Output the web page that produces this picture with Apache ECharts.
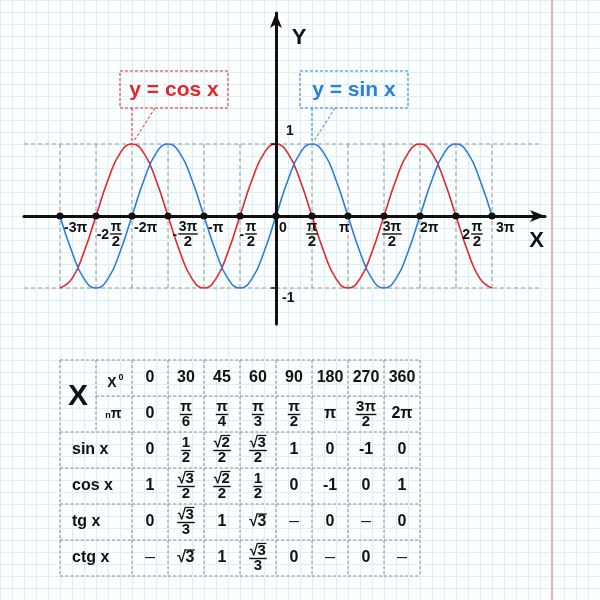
<!DOCTYPE html>
<html><head><meta charset="utf-8">
<script src="https://cdn.jsdelivr.net/npm/echarts@6/dist/echarts.min.js"></script>
<style>html,body{margin:0;padding:0;background:#fff}#c{width:600px;height:600px}</style>
</head><body><div id="c"></div>
<script>
// ---------- DATA ----------
// x positions in steps of π/6, from -3π to 3π
const xSteps = [-18,-17,-16,-15,-14,-13,-12,-11,-10,-9,-8,-7,-6,-5,-4,-3,-2,-1,0,1,2,3,4,5,6,7,8,9,10,11,12,13,14,15,16,17,18];
const sinValues = [0,-0.5,-0.87,-1,-0.87,-0.5,0,0.5,0.87,1,0.87,0.5,0,-0.5,-0.87,-1,-0.87,-0.5,0,0.5,0.87,1,0.87,0.5,0,-0.5,-0.87,-1,-0.87,-0.5,0,0.5,0.87,1,0.87,0.5,0];
const cosValues = [-1,-0.87,-0.5,0,0.5,0.87,1,0.87,0.5,0,-0.5,-0.87,-1,-0.87,-0.5,0,0.5,0.87,1,0.87,0.5,0,-0.5,-0.87,-1,-0.87,-0.5,0,0.5,0.87,1,0.87,0.5,0,-0.5,-0.87,-1];
const tickSteps = [-18,-15,-12,-9,-6,-3,0,3,6,9,12,15,18];
const tickLabels = ['-3π','-2 π/2','-2π','- 3π/2','-π','- π/2','0','π/2','π','3π/2','2π','2 π/2','3π'];
const yLabels = ['1','-1'];
const yLabelValues = [1,-1];
const axisNames = ['X','Y'];
const callouts = ['y = cos x','y = sin x'];
const calloutAnchors = [-12, 3]; // -2π and π/2 (peaks)
const tableCorner = 'X';
const headerUnits = ['X0','nπ'];
const degreeRow = ['0','30','45','60','90','180','270','360'];
const radianRow = ['0','π/6','π/4','π/3','π/2','π','3π/2','2π'];
const funcNames = ['sin x','cos x','tg x','ctg x'];
const sinRow = ['0','1/2','√2/2','√3/2','1','0','-1','0'];
const cosRow = ['1','√3/2','√2/2','1/2','0','-1','0','1'];
const tgRow = ['0','√3/3','1','√3','—','0','—','0'];
const ctgRow = ['—','√3','1','√3/3','0','—','0','—'];

// ---------- LAYOUT / STYLE ----------
const FAM = '"Liberation Sans", Arial, sans-serif';
const F = (s, w) => (w || 'bold') + ' ' + s + 'px ' + FAM;
const RED = '#e3262a', BLUE = '#2a7fd6', DASH_GREY = '#9a9a9a';
const tickDx = [4, 20, 2, 20, 4, 11, 3, 0, -9, 8, 0, 21, 4];
const calloutColors = [RED, BLUE];
const marginX = 552;

const mctx = document.createElement('canvas').getContext('2d');
function tw(t, font) { mctx.font = font; return mctx.measureText(t).width; }
function txt(t, x, y, font, align, color) {
  return {type:'text', x:x, y:y, style:{text:t, font:font, fill:color||'#111', align:align||'center', verticalAlign:'middle'}};
}
function barEl(x1, x2, y, h) {
  return {type:'rect', shape:{x:x1, y:y-(h||1.5)/2, width:x2-x1, height:h||1.5}, style:{fill:'#111'}};
}
function dline(x1,y1,x2,y2,color,dash,w) {
  return {type:'line', shape:{x1:x1,y1:y1,x2:x2,y2:y2}, style:{stroke:color, lineWidth:w||1, lineDash:dash||null}};
}
// plain value (with optional square root)
function plainEls(t, cx, cy, size, out) {
  const f = F(size);
  if (t[0] === '√') {
    const rest = t.slice(1);
    const w1 = tw('√', f), w2 = tw(rest, f);
    const x0 = cx - (w1 + w2) / 2;
    out.push(txt('√', x0, cy, f, 'left'));
    out.push(txt(rest, x0 + w1 - 0.5, cy, f, 'left'));
    out.push(dline(x0 + w1 - 1, cy - size*0.5, x0 + w1 + w2, cy - size*0.5, '#111', null, 1.2));
    return w1 + w2;
  }
  if (t === '—') { out.push(txt('—', cx, cy, F(10), 'center')); return 10; }
  out.push(txt(t, cx, cy, f, 'center'));
  return tw(t, f);
}
function valueEls(t, cx, cy, out) {
  if (t.indexOf('/') >= 0) {
    const parts = t.split('/');
    const nw = plainEls(parts[0], cx, cy - 7, 15, out);
    const dw = plainEls(parts[1], cx, cy + 8, 15, out);
    const bw = Math.max(nw, dw) + 1;
    out.push(barEl(cx - bw/2, cx + bw/2, cy + 0.5, 1.4));
  } else {
    plainEls(t, cx, cy, 16, out);
  }
}

// ---------- table cells ----------
const cells = [];
cells.push({c0:0,r0:0,c1:1,r1:2,kind:'corner',t:tableCorner});
cells.push({c0:1,r0:0,c1:2,r1:1,kind:'deg',t:headerUnits[0]});
cells.push({c0:1,r0:1,c1:2,r1:2,kind:'rad',t:headerUnits[1]});
degreeRow.forEach((t,j)=>cells.push({c0:2+j,r0:0,c1:3+j,r1:1,kind:'val',t:t}));
radianRow.forEach((t,j)=>cells.push({c0:2+j,r0:1,c1:3+j,r1:2,kind:'val',t:t}));
[sinRow,cosRow,tgRow,ctgRow].forEach((row,i)=>{
  cells.push({c0:0,r0:2+i,c1:2,r1:3+i,kind:'func',t:funcNames[i]});
  row.forEach((t,j)=>cells.push({c0:2+j,r0:2+i,c1:3+j,r1:3+i,kind:'val',t:t}));
});
const NC = 10, NR = 6;

function renderCell(params, api) {
  const c = cells[params.dataIndex];
  const p0 = api.coord([api.value(0), api.value(1)]);
  const p1 = api.coord([api.value(2), api.value(3)]);
  const out = [];
  const dash = [3, 2.2], col = '#8c8c8c';
  out.push(dline(p0[0], p0[1], p1[0], p0[1], col, dash, 1));
  out.push(dline(p0[0], p0[1], p0[0], p1[1], col, dash, 1));
  if (c.c1 === NC) out.push(dline(p1[0], p0[1], p1[0], p1[1], col, dash, 1));
  if (c.r1 === NR) out.push(dline(p0[0], p1[1], p1[0], p1[1], col, dash, 1));
  const cx = (p0[0] + p1[0]) / 2, cy = (p0[1] + p1[1]) / 2;
  if (c.kind === 'corner') {
    out.push(txt(c.t, cx, cy + 1, F(30), 'center'));
  } else if (c.kind === 'deg') {
    out.push(txt(c.t[0], cx - 2, cy + 5, F(14), 'center'));
    out.push(txt(c.t.slice(1), cx + 7, cy, F(9), 'center'));
  } else if (c.kind === 'rad') {
    out.push(txt(c.t[0], cx - 6, cy + 1.5, F(9), 'center'));
    out.push(txt(c.t.slice(1), cx + 2, cy, F(14), 'center'));
  } else if (c.kind === 'func') {
    out.push(txt(c.t, p0[0] + 12, cy, F(16), 'left'));
  } else {
    valueEls(c.t, cx, cy, out);
  }
  return {type:'group', children: out};
}

function renderTick(params, api) {
  const i = params.dataIndex;
  const p = api.coord([api.value(0), api.value(1)]);
  const out = [{type:'circle', shape:{cx:p[0], cy:p[1], r:3.6}, style:{fill:'#111'}}];
  const lab = tickLabels[i], dx = tickDx[i];
  if (lab.indexOf('/') >= 0) {
    let pre = '', frac = lab;
    if (lab.indexOf(' ') >= 0) { const s = lab.split(' '); pre = s[0]; frac = s[1]; }
    const nd = frac.split('/');
    const fN = F(14), fD = F(15);
    const fx = p[0] + dx;
    const bw = Math.max(tw(nd[0], fN), tw(nd[1], fD)) + 1;
    out.push(txt(nd[0], fx, p[1] + 11, fN, 'center'));
    out.push(barEl(fx - bw/2, fx + bw/2, p[1] + 18, 1.4));
    out.push(txt(nd[1], fx, p[1] + 26, fD, 'center'));
    if (pre) out.push(txt(pre, fx - bw/2 - 1, p[1] + 19, F(14), 'right'));
  } else {
    out.push(txt(lab, p[0] + dx, p[1] + 12, F(14), 'left'));
  }
  return {type:'group', children: out};
}

function renderGuide(params, api) {
  const a = api.coord([api.value(0), api.value(1)]);
  const b = api.coord([api.value(2), api.value(3)]);
  return dline(a[0], a[1], b[0], b[1], DASH_GREY, [4, 3], 1);
}
const guideData = [[-21, 1, 22, 1], [-21, -1, 22, -1]].concat(tickSteps.map(k => [k, -1, k, 1]));

function renderYLabel(params, api) {
  const i = params.dataIndex;
  const p = api.coord([0, api.value(1)]);
  const out = [dline(p[0] - 5, p[1], p[0], p[1], '#111', null, 1.5)];
  if (yLabelValues[i] > 0) out.push(txt(yLabels[i], p[0] + 14, p[1] - 13, F(14), 'center'));
  else out.push(txt(yLabels[i], p[0] + 6, p[1] + 10, F(14), 'left'));
  return {type:'group', children: out};
}
const X_MAX = 22.42, Y_MAX = 2.819, X_MIN = -21, Y_MIN = -1.5;
function renderAxisName(params, api) {
  const i = params.dataIndex;
  const p = api.coord([api.value(0), api.value(1)]);
  if (i === 0) return txt(axisNames[0], p[0] - 8.5, p[1] + 24.5, F(22), 'center', '#111');
  return txt(axisNames[1], p[0] + 23, p[1] + 24.5, F(22), 'center', '#111');
}
function renderCallout(params, api) {
  const i = params.dataIndex;
  const p = api.coord([api.value(0), api.value(1)]);
  const col = calloutColors[i];
  const out = [];
  out.push({type:'rect', shape:{x:p[0] - 12, y:p[1] - 73, width:108, height:37}, style:{fill:'none', stroke:col, lineWidth:1, lineDash:[3, 2]}});
  out.push(txt(callouts[i], p[0] + 42, p[1] - 54, F(21), 'center', col));
  out.push(dline(p[0], p[1] - 36, p[0], p[1] - 1, col, [3, 2], 1));
  out.push(dline(p[0] + 23, p[1] - 36, p[0] + 2, p[1] - 3, col, [3, 2], 1));
  return {type:'group', children: out};
}

const chart = echarts.init(document.getElementById('c'), null, {renderer:'canvas'});
chart.setOption({
  animation: false,
  backgroundColor: '#fdfeff',
  grid: [
    {left:0, top:0, width:600, height:600},
    {left:24, top:13, width:521, height:311},
    {left:60, top:360, width:360, height:216}
  ],
  xAxis: [
    {type:'value', gridIndex:0, min:0, max:600, interval:12, axisLine:{show:false}, axisTick:{show:false}, axisLabel:{show:false},
      splitLine:{show:true, lineStyle:{color:'#d9f0f4', width:1.2}}},
    {type:'value', gridIndex:1, min:X_MIN, max:X_MAX, z:3, axisLine:{show:true, onZero:true, symbol:['none','arrow'], symbolSize:[9,15], lineStyle:{color:'#111', width:3}},
      axisTick:{show:false}, axisLabel:{show:false}, splitLine:{show:false}},
    {type:'value', gridIndex:2, min:0, max:NC, show:false}
  ],
  yAxis: [
    {type:'value', gridIndex:0, min:0, max:600, interval:12, inverse:true, axisLine:{show:false}, axisTick:{show:false}, axisLabel:{show:false},
      splitLine:{show:true, lineStyle:{color:'#d9f0f4', width:1.2}}},
    {type:'value', gridIndex:1, min:Y_MIN, max:Y_MAX, z:3, axisLine:{show:true, onZero:true, symbol:['none','arrow'], symbolSize:[9,15], lineStyle:{color:'#111', width:3}},
      axisTick:{show:false}, axisLabel:{show:false}, splitLine:{show:false}},
    {type:'value', gridIndex:2, min:0, max:NR, inverse:true, show:false}
  ],
  series: [
    {type:'line', xAxisIndex:0, yAxisIndex:0, data:[[marginX,0],[marginX,600]], symbol:'none', lineStyle:{color:'#e99ba4', width:1.5}, silent:true},
    {type:'custom', xAxisIndex:1, yAxisIndex:1, data:guideData, renderItem:renderGuide, silent:true, z:1},
    {type:'line', name:'y = cos x', xAxisIndex:1, yAxisIndex:1, data:xSteps.map((k,i)=>[k, cosValues[i]]), smooth:0.5, symbol:'none', lineStyle:{color:RED, width:1.6}, z:2},
    {type:'line', name:'y = sin x', xAxisIndex:1, yAxisIndex:1, data:xSteps.map((k,i)=>[k, sinValues[i]]), smooth:0.5, symbol:'none', lineStyle:{color:BLUE, width:1.6}, z:2},
    {type:'custom', xAxisIndex:1, yAxisIndex:1, data:tickSteps.map(k=>[k,0]), renderItem:renderTick, silent:true, z:5},
    {type:'custom', xAxisIndex:1, yAxisIndex:1, data:yLabelValues.map(v=>[0,v]), renderItem:renderYLabel, silent:true, z:5},
    {type:'custom', xAxisIndex:1, yAxisIndex:1, data:[[X_MAX,0],[0,Y_MAX]], renderItem:renderAxisName, silent:true, z:5},
    {type:'custom', xAxisIndex:1, yAxisIndex:1, data:calloutAnchors.map(k=>[k,1]), renderItem:renderCallout, silent:true, z:5},
    {type:'custom', xAxisIndex:2, yAxisIndex:2, data:cells.map(c=>[c.c0,c.r0,c.c1,c.r1]), renderItem:renderCell, silent:true, z:5}
  ]
});
</script></body></html>
